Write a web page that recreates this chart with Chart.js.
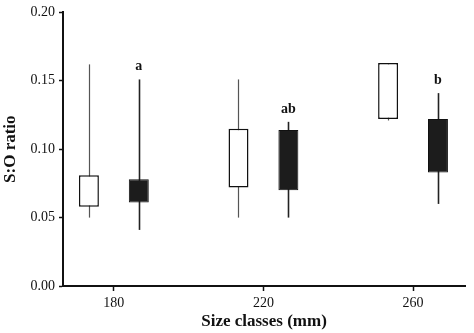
<!DOCTYPE html>
<html>
<head>
<meta charset="utf-8">
<script src="https://cdn.jsdelivr.net/npm/chart.js@4"></script>
<style>
  html, body { margin: 0; padding: 0; background: #fff; }
  #wrap { width: 474px; height: 333px; }
</style>
</head>
<body>
<div id="wrap"><canvas id="chart" width="474" height="333"></canvas></div>
<script>
// --- data ---------------------------------------------------------
const sizeClasses = [180, 220, 260];

// open boxes
const openQ1   = [0.058, 0.072, 0.122];
const openQ3   = [0.081, 0.115, 0.163];
const openLow  = [0.050, 0.050, 0.121];
const openHigh = [0.162, 0.151, 0.163];

// filled boxes
const filledQ1   = [0.061, 0.070, 0.083];
const filledQ3   = [0.078, 0.114, 0.122];
const filledLow  = [0.041, 0.050, 0.060];
const filledHigh = [0.151, 0.120, 0.141];

// significance letters over the filled boxes
const groupLetters = ['a', 'ab', 'b'];

const yTicks = [0, 0.05, 0.10, 0.15, 0.20];

const SERIF = "'Liberation Serif', 'Times New Roman', serif";

// whiskers under the boxes, letters above the top whisker
const whiskerPlugin = {
  id: 'whiskers',
  beforeDatasetsDraw(chart) {
    const { ctx, scales: { y } } = chart;
    chart.data.datasets.forEach((ds, di) => {
      const meta = chart.getDatasetMeta(di);
      ctx.save();
      ctx.strokeStyle = ds.whiskerColor;
      ctx.lineWidth = ds.whiskerWidth;
      meta.data.forEach((bar, i) => {
        const x = Math.round(bar.x) + 0.5;
        ctx.beginPath();
        ctx.moveTo(x, y.getPixelForValue(ds.whiskerHigh[i]));
        ctx.lineTo(x, y.getPixelForValue(ds.whiskerLow[i]));
        ctx.stroke();
      });
      ctx.restore();
    });
  },
  afterDatasetsDraw(chart) {
    const { ctx, scales: { y } } = chart;
    chart.data.datasets.forEach((ds, di) => {
      if (!ds.letters) return;
      const meta = chart.getDatasetMeta(di);
      ctx.save();
      ctx.fillStyle = '#111';
      ctx.font = `bold 14px ${SERIF}`;
      ctx.textAlign = 'center';
      ctx.textBaseline = 'alphabetic';
      meta.data.forEach((bar, i) => {
        ctx.fillText(ds.letters[i], bar.x, y.getPixelForValue(ds.whiskerHigh[i]) - 9);
      });
      ctx.restore();
    });
  }
};

new Chart(document.getElementById('chart').getContext('2d'), {
  type: 'bar',
  data: {
    datasets: [
      {
        label: 'open',
        data: sizeClasses.map((x, i) => ({ x, y: [openQ1[i], openQ3[i]] })),
        whiskerLow: openLow,
        whiskerHigh: openHigh,
        whiskerColor: '#555',
        whiskerWidth: 1.2,
        backgroundColor: '#ffffff',
        borderColor: '#111',
        borderWidth: 1.5,
        borderSkipped: false,
      },
      {
        label: 'filled',
        data: sizeClasses.map((x, i) => ({ x, y: [filledQ1[i], filledQ3[i]] })),
        whiskerLow: filledLow,
        whiskerHigh: filledHigh,
        whiskerColor: '#222',
        whiskerWidth: 1.6,
        letters: groupLetters,
        backgroundColor: '#1c1c1c',
        borderColor: '#111',
        borderWidth: 1,
        borderSkipped: false,
      }
    ]
  },
  options: {
    responsive: false,
    animation: false,
    categoryPercentage: 0.667,
    barPercentage: 0.4,
    layout: { padding: { top: 10, right: 9, left: 0, bottom: 0 } },
    plugins: {
      legend: { display: false },
      tooltip: { enabled: false }
    },
    scales: {
      x: {
        type: 'linear',
        offset: false,
        min: 166.4,
        max: 273.9,
        afterBuildTicks: scale => { scale.ticks = sizeClasses.map(v => ({ value: v })); },
        afterFit: scale => { scale.height = 47; },
        grid: { display: true, drawOnChartArea: false, offset: false, tickLength: 5, color: '#111', tickWidth: 1.5 },
        border: { color: '#111', width: 2 },
        ticks: {
          color: '#111',
          padding: 4,
          font: { family: SERIF, size: 14 },
          callback: v => String(v)
        },
        title: {
          display: true,
          text: 'Size classes (mm)',
          color: '#111',
          padding: { top: 0, bottom: 1 },
          font: { family: SERIF, size: 17, weight: 'bold' }
        }
      },
      y: {
        min: 0,
        max: 0.2,
        afterBuildTicks: scale => { scale.ticks = yTicks.map(v => ({ value: v })); },
        afterFit: scale => { scale.width = 63; },
        grid: { display: true, drawOnChartArea: false, tickLength: 4, color: '#111', tickWidth: 1.5 },
        border: { color: '#111', width: 2 },
        ticks: {
          color: '#111',
          padding: 4,
          font: { family: SERIF, size: 14 },
          callback: v => v.toFixed(2)
        },
        title: {
          display: true,
          text: 'S:O ratio',
          color: '#111',
          padding: { top: 0, bottom: 2 },
          font: { family: SERIF, size: 17, weight: 'bold' }
        }
      }
    }
  },
  plugins: [whiskerPlugin]
});
</script>
</body>
</html>
